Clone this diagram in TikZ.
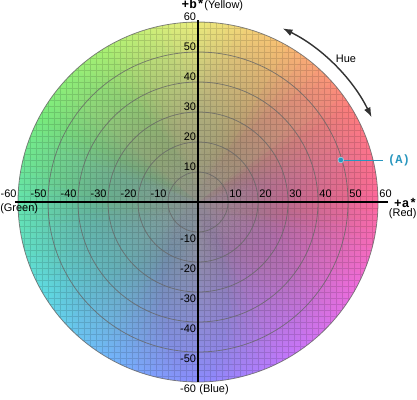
\documentclass[tikz,border=0pt]{standalone}
\usepackage{fontspec}
\setmainfont{Liberation Sans}
\newfontfamily\monofont{Liberation Mono}
\usetikzlibrary{calc,positioning,arrows.meta}
\usepackage{xcolor}

% 外圈色相关键色（每 30 度一个）
\definecolor{hue0}{RGB}{255,105,155}
\definecolor{hue1}{RGB}{255,125,125}
\definecolor{hue2}{RGB}{250,190,115}
\definecolor{hue3}{RGB}{235,238,125}
\definecolor{hue4}{RGB}{170,242,115}
\definecolor{hue5}{RGB}{120,238,125}
\definecolor{hue6}{RGB}{100,228,175}
\definecolor{hue7}{RGB}{95,218,228}
\definecolor{hue8}{RGB}{115,180,252}
\definecolor{hue9}{RGB}{140,138,255}
\definecolor{hue10}{RGB}{198,118,252}
\definecolor{hue11}{RGB}{238,108,220}
\definecolor{centregray}{RGB}{142,142,142}
\definecolor{pointblue}{RGB}{40,150,190}
\definecolor{huedark}{RGB}{50,50,50}

\tikzset{
  ticklabel/.style={font=\fontsize{7.8pt}{9pt}\selectfont, inner sep=0.8pt},
  axislabel/.style={font=\fontsize{7.8pt}{9pt}\selectfont, inner sep=0pt},
  axisname/.style={font=\monofont\bfseries\fontsize{9pt}{11pt}\selectfont, inner sep=0pt},
  axisline/.style={line width=1.6pt, black},
  ringline/.style={line width=0.55pt, black!60, opacity=0.8},
  gridline/.style={line width=0.3pt, black, opacity=0.13},
  huearrow/.style={line width=1pt, huedark, {Latex[length=7pt,width=5pt]}-{Latex[length=7pt,width=5pt]}},
  pointdot/.style={circle, fill=pointblue, draw=pointblue!40, inner sep=0pt, minimum size=4pt},
  pointline/.style={line width=0.7pt, pointblue},
  pointlabel/.style={font=\monofont\bfseries\fontsize{8.6pt}{10pt}\selectfont, text=pointblue, inner xsep=3.5pt, inner ysep=1pt},
}

\begin{document}
\begin{tikzpicture}[x=0.075cm, y=0.075cm]
    % 图幅
    \useasboundingbox (-66,-66) rectangle (73,67.33);

    % 色相扇区：相邻关键色之间线性混合
    \foreach \i [evaluate=\i as \k using {int(mod(\i+1,12))}] in {0,...,11} {
      \foreach \j in {0,...,9} {
        \pgfmathsetmacro\ang{\i*30+\j*3}
        \pgfmathtruncatemacro\mix{100-\j*10}
        \fill[fill={hue\i!\mix!hue\k}] (0,0) -- (\ang:60)
          arc[start angle=\ang, end angle=\ang+3.4, radius=60] -- cycle;
      }
    }

    % 中心灰度：由外向内叠加
    \foreach \r in {60,59,...,1} {
      \pgfmathsetmacro\ta{0.92*(1-(\r-0.5)/60)^0.9}
      \pgfmathsetmacro\tb{0.92*max(1-(\r+0.5)/60,0.000001)^0.9}
      \pgfmathsetmacro\op{1-(1-\ta)/(1-\tb)}
      \fill[centregray, opacity=\op] (0,0) circle (\r);
    }

    % 细网格
    \begin{scope}
      \clip (0,0) circle (60);
      \draw[gridline] (-60,-60) grid[step=2] (60,60);
    \end{scope}

    % 同心圆
    \foreach \r in {10,20,...,60}
      \draw[ringline] (0,0) circle (\r);

    % 坐标轴
    \coordinate (aneg) at (-61,0);
    \coordinate (apos) at (63.3,0);
    \coordinate (bneg) at (0,-60);
    \coordinate (bpos) at (0,60.7);
    \draw[axisline] (aneg) -- (apos);
    \draw[axisline] (bneg) -- (bpos);

    % 刻度数字
    \foreach \v in {10,20,...,60} {
      \node[ticklabel, anchor=south west] (ap\v) at (\v,1) {\v};
      \node[ticklabel, anchor=south east] (an\v) at (-\v,1) {-\v};
      \node[ticklabel, anchor=south east] (bp\v) at (-0.2,\v) {\v};
      \node[ticklabel, anchor=north east] (bn\v) at (-0.2,-\v-0.6) {-\v};
    }

    % 轴名称
    \node[axislabel, anchor=north west] (blue) at ($(bn60.north east)+(0.6,0)$) {(Blue)};
    \node[axislabel, anchor=north west] (green) at (-66,-0.5) {(Green)};
    \node[axislabel, anchor=north east] (red) at (72.9,-2.2) {(Red)};
    \node[axisname, anchor=south] (astar) at (69.2,-1.9) {+a*};
    \node[anchor=base, inner sep=0pt] (bstar) at (4.8,64.4)
      {{\monofont\bfseries\fontsize{9pt}{11pt}\selectfont +b*}{\fontsize{7.8pt}{9pt}\selectfont(Yellow)}};

    % 色相箭头
    \draw[huearrow] (26:64.4) arc[start angle=26, end angle=64, radius=64.4];
    \node[ticklabel] (hue) at (49.3,47.7) {Hue};

    % 样品点 (A)
    \node[pointdot] (ptA) at (47.6,14) {};
    \node[pointlabel, anchor=west] (labA) at (61.65,14) {(A)};
    \draw[pointline] (ptA) -- (labA);
\end{tikzpicture}
\end{document}
